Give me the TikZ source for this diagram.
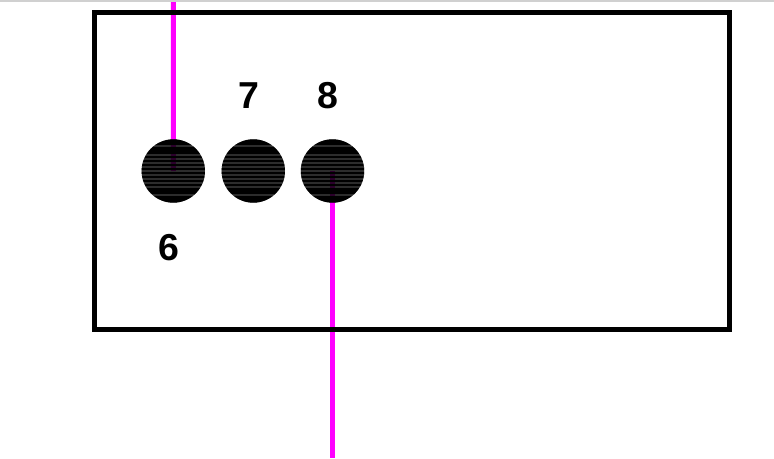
\documentclass[tikz,border=0pt]{standalone}
\usepackage{fontspec}
\setmainfont{Liberation Sans}
\usetikzlibrary{backgrounds}
\definecolor{wire}{HTML}{FF00FF}
\definecolor{edgegray}{HTML}{D0D0D0}
\tikzset{
  frame/.style={draw=black, line width=5.5pt, minimum width=635pt, minimum height=317pt, inner sep=0pt},
  pin/.style={circle, minimum size=63.4pt, inner sep=0pt, fill=black, fill opacity=0.5,
    path picture={
      \fill[black, fill opacity=1, even odd rule]
        ([xshift=-40pt,yshift=40pt]path picture bounding box.center) rectangle ([xshift=40pt,yshift=-40pt]path picture bounding box.center)
        foreach \s in {-25,-16,-12,-8,-4,0,4,8,12,16,24}{
          ([xshift=-40pt,yshift=-\s pt+0.4pt]path picture bounding box.center) rectangle ([xshift=40pt,yshift=-\s pt-0.4pt]path picture bounding box.center)
        };
    }},
  wireline/.style={draw=wire, line width=5pt},
  numlabel/.style={font=\bfseries\fontsize{37.5}{44}\selectfont, inner sep=0pt}
}
\begin{document}
\begin{tikzpicture}[x=1pt,y=-1pt]
\useasboundingbox (0,0) rectangle (774,458);
\coordinate (tl) at (0,0.75);
\coordinate (tr) at (774,0.75);
\draw[edgegray, line width=1.5pt] (tl) -- (tr);
\node[frame] (box) at (412,171) {};
\node[pin] (c6) at (173.3,171) {};
\node[pin] (c7) at (253.3,171) {};
\node[pin] (c8) at (332.5,171) {};
\node[numlabel] (l7) at (249,95.5) {7};
\node[numlabel] (l8) at (327.5,95.5) {8};
\node[numlabel] (l6) at (169,247.5) {6};
\coordinate (wtop) at (173.5,0);
\coordinate (wbot) at (332.5,458);
\begin{pgfonlayer}{background}
\draw[wireline] (wtop) -- (c6.center);
\draw[wireline] (c8.center) -- (wbot);
\end{pgfonlayer}
\end{tikzpicture}
\end{document}
